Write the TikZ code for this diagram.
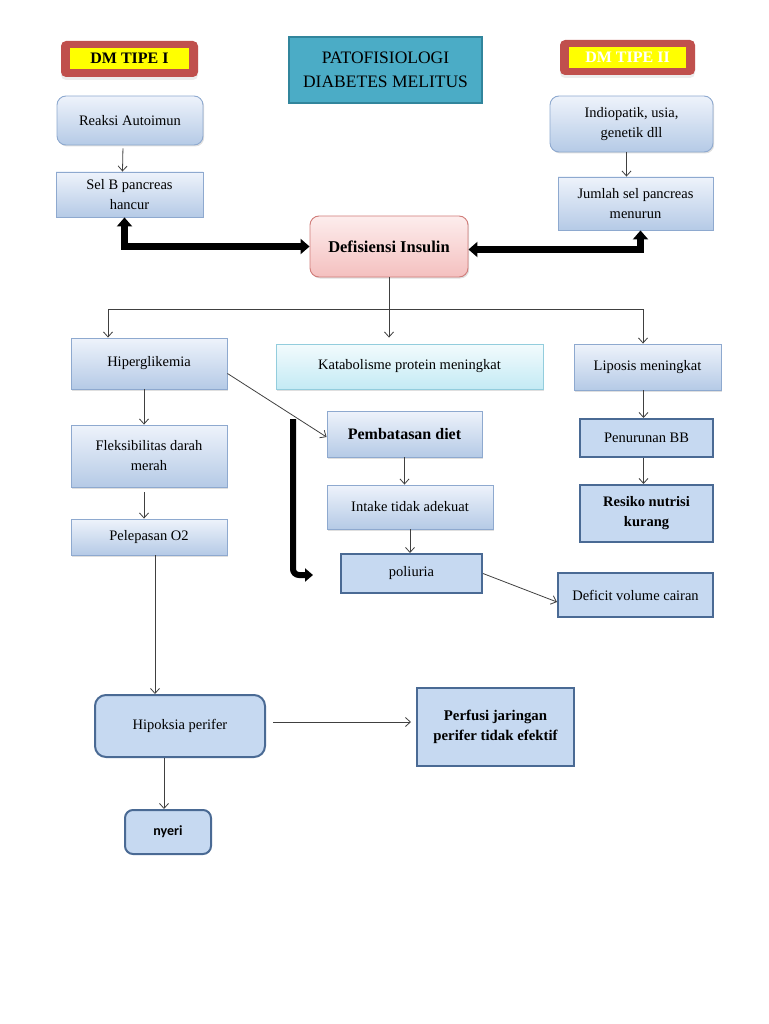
\documentclass[tikz,border=0pt]{standalone}
\usepackage{fontspec}
\setmainfont{Liberation Serif}
\newfontfamily\calibri{Carlito}
\usetikzlibrary{arrows.meta,shadows}

\definecolor{garisbiru}{HTML}{8EA9CF}
\definecolor{biruatas}{HTML}{EEF3FB}
\definecolor{birubawah}{HTML}{B5CAE6}
\definecolor{biruisi}{HTML}{C6D9F1}
\definecolor{birutua}{HTML}{4A6A94}
\definecolor{cyanatas}{HTML}{F2FBFD}
\definecolor{cyanbawah}{HTML}{C4EAF4}
\definecolor{gariscyan}{HTML}{93CDDD}
\definecolor{merahatas}{HTML}{FDEDED}
\definecolor{merahbawah}{HTML}{F4C0BF}
\definecolor{garismerah}{HTML}{D07C79}
\definecolor{merahbata}{HTML}{C0504D}
\definecolor{kuning}{HTML}{FFFF00}
\definecolor{teal}{HTML}{4BACC6}
\definecolor{tealtua}{HTML}{31859C}
\definecolor{abugaris}{HTML}{404040}

\newcommand\teks{\fontsize{14.5pt}{20pt}\selectfont}
\newcommand\teksbesar{\fontsize{16pt}{21pt}\selectfont}

\tikzset{
    kotak/.style={draw=garisbiru, line width=0.9pt, top color=biruatas, bottom color=birubawah,
        align=center, inner sep=2pt, font=\teks,
        drop shadow={shadow xshift=1.2pt, shadow yshift=-1.5pt, opacity=0.25}},
    kotakbulat/.style={kotak, rounded corners=9pt},
    kotaktebal/.style={draw=birutua, line width=2pt, fill=biruisi, align=center, inner sep=2pt, font=\teks},
    judulmerah/.style={fill=merahbata, rounded corners=5pt,
        drop shadow={shadow xshift=0pt, shadow yshift=-3pt, opacity=0.15}},
    judulkuning/.style={fill=kuning, inner sep=0pt, font=\teksbesar\bfseries},
    panah/.style={draw=abugaris, line width=0.8pt, -{Straight Barb[length=5pt,width=9pt]}},
    panahtebal/.style={line width=7pt, {Triangle[length=9pt,width=15pt]}-{Triangle[length=9pt,width=15pt]}}
}

\begin{document}
\begin{tikzpicture}[x=1pt, y=-1pt]

    \useasboundingbox (0,0) rectangle (768,1024);

    % judul
    \node [judulmerah, minimum width=137pt, minimum height=36pt] (dmsatu) at (129.5,59) {};
    \node [judulkuning, minimum width=119pt, minimum height=21pt] (dmsatuteks) at (129.5,58.5) {DM TIPE I};
    \node [judulmerah, minimum width=135pt, minimum height=35pt] (dmdua) at (627.5,57.5) {};
    \node [judulkuning, minimum width=117pt, minimum height=21pt, text=white] (dmduateks) at (627.5,57.5) {DM TIPE II};
    \node [draw=tealtua, line width=1.5pt, fill=teal, align=center, minimum width=193pt, minimum height=66pt,
        font=\fontsize{17.5pt}{24pt}\selectfont] (judul) at (385.5,70) {PATOFISIOLOGI\\DIABETES MELITUS};

    % sebab
    \node [kotakbulat, minimum width=146pt, minimum height=49pt] (reaksi) at (130,120.5) {Reaksi Autoimun};
    \node [kotak, minimum width=147pt, minimum height=45pt] (selb) at (129.5,194.5) {Sel B pancreas\\hancur};
    \node [kotakbulat, minimum width=163pt, minimum height=56pt] (indio) at (631.5,124) {Indiopatik, usia,\\genetik dll};
    \node [kotak, minimum width=155pt, minimum height=53pt] (jumlah) at (635.5,203.5) {Jumlah sel pancreas\\menurun};
    \node [kotakbulat, draw=garismerah, top color=merahatas, bottom color=merahbawah, minimum width=158pt, minimum height=61pt,
        font=\fontsize{16.5pt}{20pt}\selectfont\bfseries] (def) at (389,246.5) {Defisiensi Insulin};

    % akibat
    \node [kotak, minimum width=156pt, minimum height=51pt] (hiper) at (149,363.5) {Hiperglikemia};
    \node [kotak, draw=gariscyan, top color=cyanatas, bottom color=cyanbawah, minimum width=267pt, minimum height=45pt] (katab) at (409.5,366.5) {Katabolisme protein meningkat};
    \node [kotak, minimum width=147pt, minimum height=46pt] (lipo) at (647.5,367) {Liposis meningkat};
    \node [kotak, minimum width=156pt, minimum height=62pt] (fleks) at (149,456) {Fleksibilitas darah\\merah};
    \node [kotak, minimum width=156pt, minimum height=36pt] (pelep) at (149,537) {Pelepasan O2};
    \node [kotak, minimum width=155pt, minimum height=46pt, font=\teksbesar\bfseries] (pemb) at (404.5,434) {Pembatasan diet};
    \node [kotak, minimum width=166pt, minimum height=44pt] (intake) at (410,507) {Intake tidak adekuat};
    \node [kotaktebal, minimum width=141pt, minimum height=39pt] (poli) at (411.5,573.5) {poliuria};
    \node [kotaktebal, minimum width=155pt, minimum height=44pt] (defic) at (635.5,595) {Deficit volume cairan};
    \node [kotaktebal, minimum width=133pt, minimum height=38pt] (penur) at (646.5,438) {Penurunan BB};
    \node [kotaktebal, minimum width=133pt, minimum height=57pt, font=\teks\bfseries] (resiko) at (646.5,513.5) {Resiko nutrisi\\kurang};
    \node [kotaktebal, rounded corners=11pt, minimum width=170pt, minimum height=62pt] (hipoks) at (180,726) {Hipoksia perifer};
    \node [kotaktebal, minimum width=157pt, minimum height=78pt, font=\fontsize{14.8pt}{20pt}\selectfont\bfseries] (perf) at (495.5,727) {Perfusi jaringan\\perifer tidak efektif};
    \node [kotaktebal, rounded corners=8pt, minimum width=86pt, minimum height=44pt,
        font=\fontsize{14pt}{16pt}\calibri\bfseries] (nyeri) at (168,832) {nyeri};

    % panah tebal
    \draw [panahtebal] (def.west) -| ([xshift=-5pt]selb.south);
    \draw [panahtebal] ([yshift=-3pt]def.east) -| ([xshift=5pt]jumlah.south);
    \coordinate (lengkungatas) at (293,419);
    \coordinate (lengkungbawah) at (313,575);
    \draw [line width=6pt, -{Triangle[length=8pt,width=13pt]}, rounded corners=6pt] (lengkungatas) |- (lengkungbawah);

    % cabang
    \coordinate (cabang) at (389,309);
    \coordinate (kiri) at (108,309);
    \coordinate (kanan) at (643,309);
    \draw [draw=abugaris, line width=0.8pt] (kiri) -- (kanan);
    \draw [panah] (def.south) -- ([yshift=6pt]def.south |- katab.north);
    \draw [panah] (kiri) -- (kiri |- hiper.north);
    \draw [panah] (kanan) -- (kanan |- lipo.north);

    % panah tipis
    \draw [panah, shorten <=3pt] ([xshift=-7pt]reaksi.south) -- ([xshift=-7pt]selb.north);
    \draw [panah] ([xshift=-5pt]indio.south) -- ([xshift=-5pt]indio.south |- jumlah.north);
    \draw [panah] ([xshift=-5pt]hiper.south) -- ([xshift=-5pt]fleks.north);
    \draw [panah, shorten <=5pt] ([xshift=-5pt]fleks.south) -- ([xshift=-5pt]pelep.north);
    \draw [panah] ([xshift=6pt]pelep.south) -- ([xshift=6pt]pelep.south |- hipoks.north);
    \draw [panah] ([yshift=-10pt]hiper.east) -- ([yshift=-3pt]pemb.west);
    \draw [panah] (pemb.south) -- (pemb.south |- intake.north);
    \draw [panah] (intake.south) -- (intake.south |- poli.north);
    \draw [panah] (poli.east) -- ([yshift=-7pt]defic.west);
    \draw [panah] ([xshift=-4pt]lipo.south) -- ([xshift=-4pt]lipo.south |- penur.north);
    \draw [panah] ([xshift=-3pt]penur.south) -- ([xshift=-3pt]penur.south |- resiko.north);
    \draw [panah, shorten <=7pt, shorten >=5pt] ([yshift=4pt]hipoks.east) -- ([yshift=4pt]hipoks.east -| perf.west);
    \draw [panah] ([xshift=-4pt]nyeri.north |- hipoks.south) -- ([xshift=-4pt]nyeri.north);

\end{tikzpicture}
\end{document}
